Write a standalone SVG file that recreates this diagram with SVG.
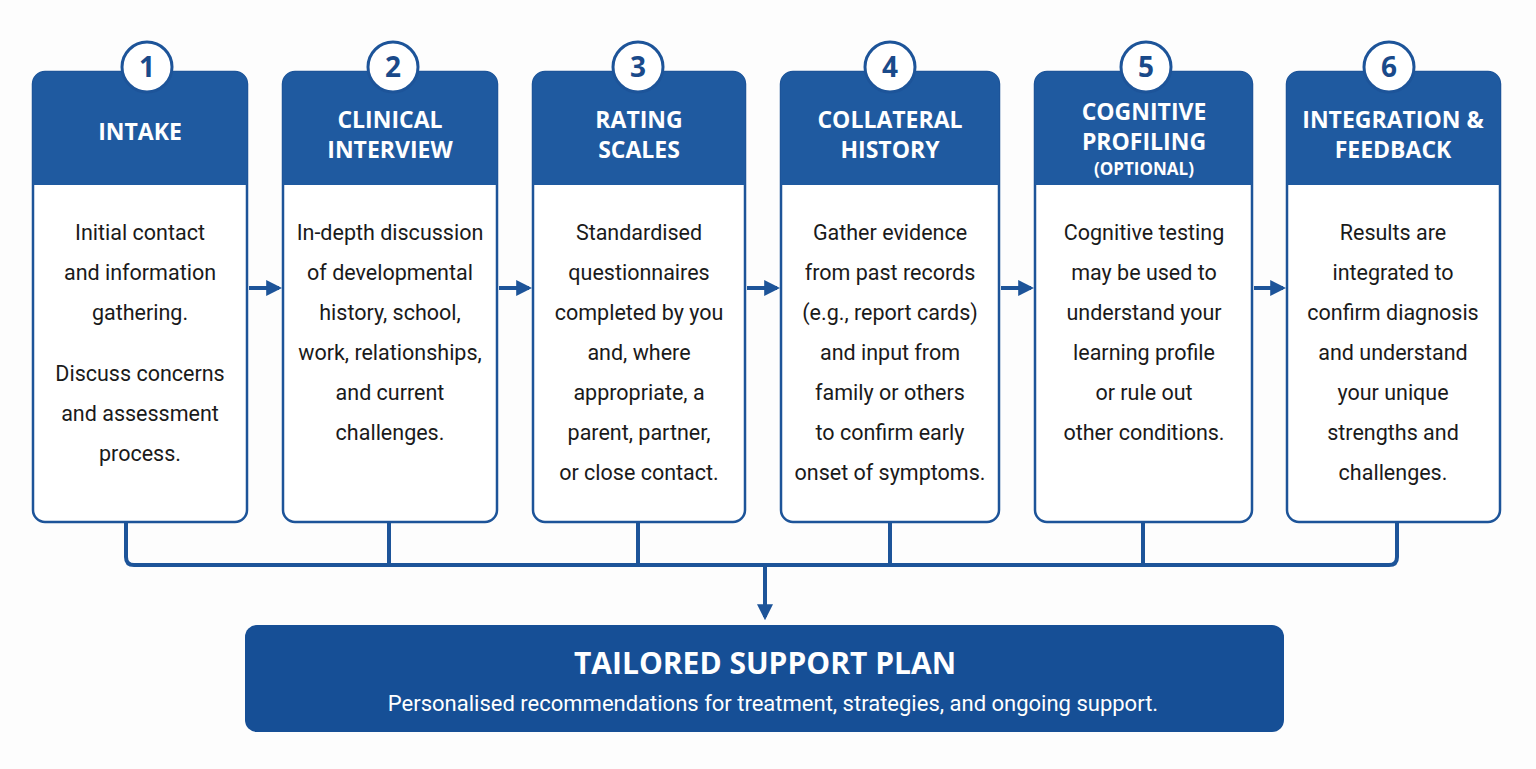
<svg xmlns="http://www.w3.org/2000/svg" width="1536" height="769" viewBox="0 0 1536 769">
<style>
.box{fill:#fff;stroke:#1d5499;stroke-width:2.5}
.hd{fill:#1f5aa0}
.num{fill:#fff;stroke:#1d5499;stroke-width:3}
.nt{font-family:"Open Sans","Liberation Sans",sans-serif;font-weight:700;font-size:28px;fill:#1a4a8a;text-anchor:middle}
.ht{font-family:"Open Sans","Liberation Sans",sans-serif;font-weight:700;font-size:23px;fill:#fff;text-anchor:middle}
.hs{font-family:"Open Sans","Liberation Sans",sans-serif;font-weight:700;font-size:17px;fill:#fff;text-anchor:middle}
.bt{font-family:Roboto,"Liberation Sans",sans-serif;font-size:21.5px;fill:#1a1a1a;text-anchor:middle}
.ln{fill:none;stroke:#1d5499;stroke-width:4}
</style>
<defs>
<marker id="ah" viewBox="0 0 10 10" refX="8" refY="5" markerWidth="4" markerHeight="4" orient="auto"><path d="M0,0L10,5L0,10z" fill="#1d5499"/></marker>
</defs>
<rect width="1536" height="769" fill="#fdfdfd"/>
<g id="connectors">
<path class="ln" d="M126,522V557Q126,565 134,565H1389Q1397,565 1397,557V522M389,522V565M638,522V565M890,522V565M1143,522V565"/>
<path class="ln" d="M765,565V617" marker-end="url(#ah)"/>
<path class="ln" d="M249,288H279" marker-end="url(#ah)"/>
<path class="ln" d="M499,288H529" marker-end="url(#ah)"/>
<path class="ln" d="M747,288H777" marker-end="url(#ah)"/>
<path class="ln" d="M1001,288H1031" marker-end="url(#ah)"/>
<path class="ln" d="M1254,288H1283" marker-end="url(#ah)"/>
</g>
<g id="n1">
<rect class="box" x="33" y="72" width="214" height="450" rx="12"/>
<path class="hd" d="M33,84Q33,72 45,72H235Q247,72 247,84V185H33z"/>
<circle class="num" cx="147" cy="67" r="25"/><text class="nt" x="147" y="77">1</text>
<text class="ht" x="140" y="140">INTAKE</text>
<text class="bt" x="140" y="240">Initial contact</text>
<text class="bt" x="140" y="280">and information</text>
<text class="bt" x="140" y="320">gathering.</text>
<text class="bt" x="140" y="381">Discuss concerns</text>
<text class="bt" x="140" y="421">and assessment</text>
<text class="bt" x="140" y="461">process.</text>
</g>
<g id="n2">
<rect class="box" x="283" y="72" width="214" height="450" rx="12"/>
<path class="hd" d="M283,84Q283,72 295,72H485Q497,72 497,84V185H283z"/>
<circle class="num" cx="393" cy="67" r="25"/><text class="nt" x="393" y="77">2</text>
<text class="ht" x="390" y="128">CLINICAL</text>
<text class="ht" x="390" y="158">INTERVIEW</text>
<text class="bt" x="390" y="240">In-depth discussion</text>
<text class="bt" x="390" y="280">of developmental</text>
<text class="bt" x="390" y="320">history, school,</text>
<text class="bt" x="390" y="360">work, relationships,</text>
<text class="bt" x="390" y="400">and current</text>
<text class="bt" x="390" y="440">challenges.</text>
</g>
<g id="n3">
<rect class="box" x="533" y="72" width="212" height="450" rx="12"/>
<path class="hd" d="M533,84Q533,72 545,72H733Q745,72 745,84V185H533z"/>
<circle class="num" cx="638" cy="67" r="25"/><text class="nt" x="638" y="77">3</text>
<text class="ht" x="639" y="128">RATING</text>
<text class="ht" x="639" y="158">SCALES</text>
<text class="bt" x="639" y="240">Standardised</text>
<text class="bt" x="639" y="280">questionnaires</text>
<text class="bt" x="639" y="320">completed by you</text>
<text class="bt" x="639" y="360">and, where</text>
<text class="bt" x="639" y="400">appropriate, a</text>
<text class="bt" x="639" y="440">parent, partner,</text>
<text class="bt" x="639" y="480">or close contact.</text>
</g>
<g id="n4">
<rect class="box" x="781" y="72" width="218" height="450" rx="12"/>
<path class="hd" d="M781,84Q781,72 793,72H987Q999,72 999,84V185H781z"/>
<circle class="num" cx="890" cy="67" r="25"/><text class="nt" x="890" y="77">4</text>
<text class="ht" x="890" y="128">COLLATERAL</text>
<text class="ht" x="890" y="158">HISTORY</text>
<text class="bt" x="890" y="240">Gather evidence</text>
<text class="bt" x="890" y="280">from past records</text>
<text class="bt" x="890" y="320">(e.g., report cards)</text>
<text class="bt" x="890" y="360">and input from</text>
<text class="bt" x="890" y="400">family or others</text>
<text class="bt" x="890" y="440">to confirm early</text>
<text class="bt" x="890" y="480">onset of symptoms.</text>
</g>
<g id="n5">
<rect class="box" x="1035" y="72" width="217" height="450" rx="12"/>
<path class="hd" d="M1035,84Q1035,72 1047,72H1240Q1252,72 1252,84V185H1035z"/>
<circle class="num" cx="1146" cy="67" r="25"/><text class="nt" x="1146" y="77">5</text>
<text class="ht" x="1144" y="120" font-size="22">COGNITIVE</text>
<text class="ht" x="1144" y="150" font-size="22">PROFILING</text>
<text class="hs" x="1144" y="175">(OPTIONAL)</text>
<text class="bt" x="1144" y="240">Cognitive testing</text>
<text class="bt" x="1144" y="280">may be used to</text>
<text class="bt" x="1144" y="320">understand your</text>
<text class="bt" x="1144" y="360">learning profile</text>
<text class="bt" x="1144" y="400">or rule out</text>
<text class="bt" x="1144" y="440">other conditions.</text>
</g>
<g id="n6">
<rect class="box" x="1287" y="72" width="213" height="450" rx="12"/>
<path class="hd" d="M1287,84Q1287,72 1299,72H1488Q1500,72 1500,84V185H1287z"/>
<circle class="num" cx="1389" cy="67" r="25"/><text class="nt" x="1389" y="77">6</text>
<text class="ht" x="1393" y="128">INTEGRATION &amp;</text>
<text class="ht" x="1393" y="158">FEEDBACK</text>
<text class="bt" x="1393" y="240">Results are</text>
<text class="bt" x="1393" y="280">integrated to</text>
<text class="bt" x="1393" y="320">confirm diagnosis</text>
<text class="bt" x="1393" y="360">and understand</text>
<text class="bt" x="1393" y="400">your unique</text>
<text class="bt" x="1393" y="440">strengths and</text>
<text class="bt" x="1393" y="480">challenges.</text>
</g>
<g id="plan">
<rect x="245" y="625" width="1039" height="107" rx="12" fill="#164f96"/>
<text x="765" y="674" font-family="'Open Sans','Liberation Sans',sans-serif" font-weight="700" font-size="30" fill="#fff" text-anchor="middle">TAILORED SUPPORT PLAN</text>
<text x="773" y="711" font-family="Roboto,'Liberation Sans',sans-serif" font-size="22" fill="#fff" text-anchor="middle">Personalised recommendations for treatment, strategies, and ongoing support.</text>
</g>
</svg>
